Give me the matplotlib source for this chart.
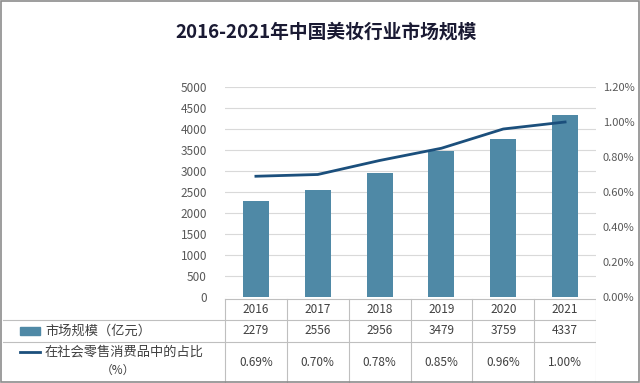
import matplotlib
matplotlib.use('Agg')
import matplotlib.pyplot as plt
from matplotlib.patches import Rectangle

plt.rcParams['font.family'] = ['Noto Sans CJK SC', 'DejaVu Sans']

years = ['2016', '2017', '2018', '2019', '2020', '2021']
market_size = [2279, 2556, 2956, 3479, 3759, 4337]
retail_share = [0.69, 0.70, 0.78, 0.85, 0.96, 1.00]
title = '2016-2021年中国美妆行业市场规模'
row_labels = ['市场规模（亿元）', '在社会零售消费品中的占比']
row2_unit = '（%）'

bar_color = '#4F89A6'
line_color = '#1B4F7C'
grid_color = '#D9D9D9'
text_color = '#595959'
W, H = 640, 383

fig = plt.figure(figsize=(6.4, 3.83), dpi=100)

# 主图区域（像素换算）
x0, x1 = 225, 596
y_top, y_bot = 87, 297
ax = fig.add_axes([x0 / W, 1 - y_bot / H, (x1 - x0) / W, (y_bot - y_top) / H])
xs = list(range(len(years)))
ax.bar(xs, market_size, width=0.42, color=bar_color, zorder=2)
ax.set_xlim(-0.5, len(years) - 0.5)
ax.set_ylim(0, 5000)
ax.set_yticks(range(0, 5001, 500))
ax.yaxis.grid(True, color=grid_color, linewidth=0.8, zorder=0)
ax.set_xticks([])
for s in ax.spines.values():
    s.set_visible(False)
ax.tick_params(axis='y', length=0, labelsize=8.5, colors=text_color, pad=13)

ax2 = ax.twinx()
ax2.plot(xs, retail_share, color=line_color, linewidth=2.0, zorder=3)
ax2.set_ylim(0, 1.2)
ax2.set_yticks([0, 0.2, 0.4, 0.6, 0.8, 1.0, 1.2])
ax2.set_yticklabels([f'{v:.2f}%' for v in [0, 0.2, 0.4, 0.6, 0.8, 1.0, 1.2]])
for s in ax2.spines.values():
    s.set_visible(False)
ax2.tick_params(axis='y', length=0, labelsize=8, colors=text_color, pad=5)

# 数据表
tab = fig.add_axes([0, 0, x1 / W, (H - y_bot) / H])
unit = (x1 - x0) / len(years)
left = -0.5 - x0 / unit
tab.set_xlim(left, len(years) - 0.5)
tab.set_ylim(H, y_bot)
tab.axis('off')
lc = '#BFBFBF'
r1, r2, r3 = 320, 342, 383
tab.plot([-0.5, len(years) - 0.5], [y_bot + 2, y_bot + 2], color=lc, lw=0.8)
tab.plot([left + 0.05, len(years) - 0.5], [r1, r1], color=lc, lw=0.8)
tab.plot([left + 0.05, len(years) - 0.5], [r2, r2], color=lc, lw=0.8)
for i in range(len(years) + 1):
    tab.plot([i - 0.5, i - 0.5], [y_bot + 2, r3], color=lc, lw=0.8)
for i, y in enumerate(years):
    tab.text(i, (y_bot + r1) / 2 + 1, y, ha='center', va='center', fontsize=8.5, color='#404040')
    tab.text(i, (r1 + r2) / 2, str(market_size[i]), ha='center', va='center', fontsize=8.5, color='#404040')
    tab.text(i, (r2 + r3) / 2, f'{retail_share[i]:.2f}%', ha='center', va='center', fontsize=8.5, color='#404040')

px = 1 / unit
tab.add_patch(Rectangle((left + 20 * px, 327), 20 * px, 8, color=bar_color))
tab.plot([left + 20 * px, left + 40 * px], [352, 352], color=line_color, lw=2.0)
tab.text(left + 45 * px, (r1 + r2) / 2, row_labels[0], ha='left', va='center', fontsize=9.5, color='#404040')
tab.text(left + 45 * px, 352, row_labels[1], ha='left', va='center', fontsize=9.5, color='#404040')
tab.text(left + 118 * px, 370, row2_unit, ha='center', va='center', fontsize=8.5, color='#404040')

fig.text(326 / W, 1 - 32 / H, title, ha='center', va='center', fontsize=13.5,
         fontweight='bold', color='#1A1A33')

# 外框
fig.add_artist(Rectangle((0.001, 0.002), 0.997, 0.995, transform=fig.transFigure,
                         fill=False, edgecolor='#8C8C8C', lw=1.2))

fig.savefig('out.png', dpi=100, facecolor='white')
